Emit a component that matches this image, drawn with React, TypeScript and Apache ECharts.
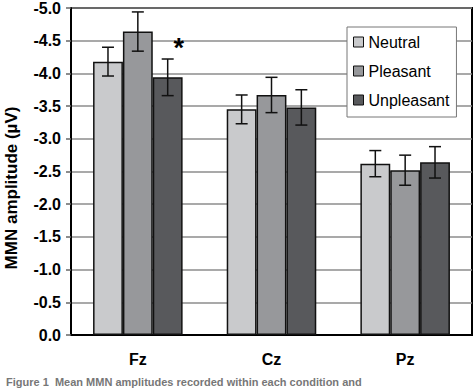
import React, { useEffect, useRef } from "react";
import * as echarts from "echarts";

const categories = ["Fz", "Cz", "Pz"];
const seriesNames = ["Neutral", "Pleasant", "Unpleasant"];
const neutralValues = [-4.18, -3.45, -2.62];
const pleasantValues = [-4.64, -3.67, -2.52];
const unpleasantValues = [-3.94, -3.48, -2.64];
const neutralErrors = [0.22, 0.22, 0.2];
const pleasantErrors = [0.3, 0.27, 0.23];
const unpleasantErrors = [0.28, 0.27, 0.24];
const unpleasantMarks = ["*", "", ""];
const colors = ["#c9cacc", "#97989b", "#58595c"];
const yTicks = { min: -5, max: 0, interval: 0.5 };
const caption = "Figure 1  Mean MMN amplitudes recorded within each condition and";

const values = [neutralValues, pleasantValues, unpleasantValues];
const errors = [neutralErrors, pleasantErrors, unpleasantErrors];
const marks = [["", "", ""], ["", "", ""], unpleasantMarks];
const CAT_GAP = 0.33;

export default function App() {
  const ref = useRef<HTMLDivElement>(null);
  useEffect(() => {
    if (!ref.current) return;
    const chart = echarts.init(ref.current, null, { renderer: "svg" });
    const errData: any[] = [];
    values.forEach((vals, si) => {
      vals.forEach((v, ci) => {
        errData.push([ci, si, v, errors[si][ci], marks[si][ci]]);
      });
    });
    const font = "'Liberation Sans', Arial, Helvetica, sans-serif";
    chart.setOption({
      animation: false,
      textStyle: { fontFamily: font },
      grid: {
        left: 71,
        right: 2,
        top: 7.5,
        bottom: 54,
        show: true,
        borderColor: "#000",
        borderWidth: 2,
        backgroundColor: "#fff",
      },
      legend: {
        data: seriesNames,
        orient: "vertical",
        left: 347,
        top: 27,
        icon: "rect",
        itemWidth: 10,
        itemHeight: 10,
        itemGap: 13,
        padding: [7, 7, 9, 6],
        backgroundColor: "#fff",
        borderColor: "#777",
        borderWidth: 1,
        itemStyle: { borderColor: "#111", borderWidth: 1 },
        textStyle: { fontSize: 16, color: "#000", fontFamily: font, lineHeight: 16 },
      },
      xAxis: {
        type: "category",
        data: categories,
        axisLine: { lineStyle: { color: "#000", width: 2 } },
        axisTick: { show: false },
        axisLabel: { fontSize: 16, fontWeight: "bold", color: "#000", margin: 16 },
      },
      yAxis: {
        type: "value",
        inverse: true,
        min: yTicks.min,
        max: yTicks.max,
        interval: yTicks.interval,
        axisLine: { show: true, lineStyle: { color: "#000", width: 2 } },
        axisTick: { show: true, length: 5, lineStyle: { color: "#666", width: 1.5 } },
        axisLabel: {
          fontSize: 16,
          fontWeight: "bold",
          color: "#000",
          margin: 10,
          formatter: (v: number) => v.toFixed(1),
        },
        splitLine: { lineStyle: { color: "#8c8c8c", width: 1.5 } },
      },
      series: [
        ...seriesNames.map((name, i) => ({
          type: "bar",
          name,
          data: values[i],
          barGap: "0%",
          barCategoryGap: CAT_GAP * 100 + "%",
          itemStyle: { color: colors[i], borderColor: "#111", borderWidth: 1.5 },
        })),
        {
          type: "custom",
          z: 5,
          silent: true,
          data: errData,
          renderItem: (params: any, api: any) => {
            const ci = api.value(0);
            const si = api.value(1);
            const mean = api.value(2);
            const err = api.value(3);
            const mark = errData[params.dataIndex][4];
            const center = api.coord([ci, 0]);
            const catW = api.size([1, 0])[0];
            const barW = (catW * (1 - CAT_GAP)) / 3;
            const x = center[0] + (si - 1) * barW;
            const top = api.coord([ci, mean - err])[1];
            const bot = api.coord([ci, mean + err])[1];
            const cap = 6;
            const ls = { stroke: "#111", lineWidth: 1.5 };
            const children: any[] = [
              { type: "line", shape: { x1: x, y1: top, x2: x, y2: bot }, style: ls },
              { type: "line", shape: { x1: x - cap, y1: top, x2: x + cap, y2: top }, style: ls },
              { type: "line", shape: { x1: x - cap, y1: bot, x2: x + cap, y2: bot }, style: ls },
            ];
            if (mark) {
              children.push({
                type: "text",
                style: {
                  text: mark,
                  x: x + 11,
                  y: top - 11,
                  fontSize: 27,
                  fontWeight: "bold",
                  fontFamily: font,
                  fill: "#000",
                  align: "center",
                  verticalAlign: "middle",
                },
              });
            }
            return { type: "group", children };
          },
        },
      ],
      graphic: [
        {
          type: "text",
          x: 11,
          y: 188,
          rotation: Math.PI / 2,
          style: {
            text: "MMN amplitude (µV)",
            fontSize: 17,
            fontWeight: "bold",
            fontFamily: font,
            fill: "#000",
            align: "center",
            verticalAlign: "middle",
          },
        },
        {
          type: "text",
          x: 6,
          y: 376,
          style: {
            text: caption,
            fontSize: 11,
            fontWeight: "bold",
            fontFamily: font,
            fill: "#777",
            align: "left",
            verticalAlign: "top",
          },
        },
      ],
    });
    return () => chart.dispose();
  }, []);
  return (
    <div
      ref={ref}
      style={{ position: "fixed", left: 0, top: 0, width: 474, height: 389, background: "#fff" }}
    />
  );
}
